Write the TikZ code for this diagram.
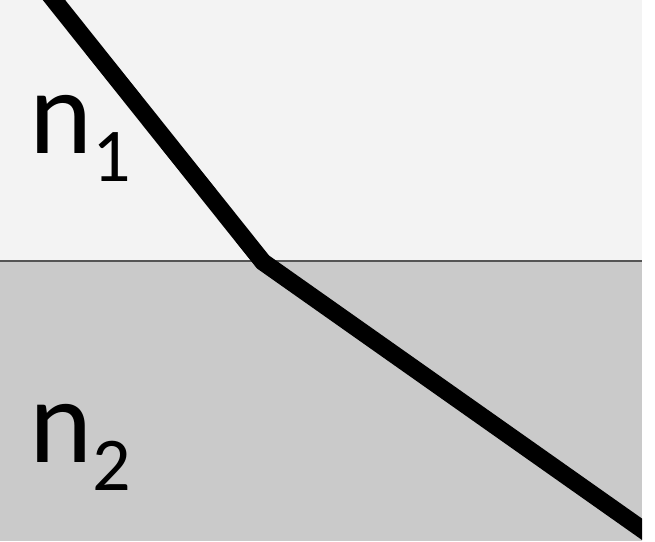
\documentclass[tikz,border=0pt]{standalone}
\usepackage{fontspec}
\setmainfont{Carlito}
\definecolor{topfill}{HTML}{F3F3F3}
\definecolor{botfill}{HTML}{CACACA}
\definecolor{boundary}{HTML}{555555}
\begin{document}
\begin{tikzpicture}[x=1pt,y=-1pt,
  ray/.style={line width=17.5pt, black, line join=miter},
  lbl/.style={inner sep=0pt, anchor=base west, text=black, font=\fontsize{120}{144}\selectfont}]
\useasboundingbox (0,0) rectangle (655,541);
\fill[topfill] (0,0) rectangle (642,261);
\fill[botfill] (0,261) rectangle (642,541);
\draw[line width=2.5pt, boundary] (0,261) -- (642,261);
\coordinate (a) at (38,-20);
\coordinate (k) at (263,262);
\coordinate (b) at (670,549);
\begin{scope}
\clip (0,0) rectangle (642,541);
\draw[ray] (a) -- (k) -- (b);
\end{scope}
\node[lbl] (n1) at (29,153) {n\raisebox{-28pt}{\fontsize{76}{90}\selectfont 1}};
\node[lbl] (n2) at (29,462) {n\raisebox{-28pt}{\fontsize{76}{90}\selectfont 2}};
\end{tikzpicture}
\end{document}
